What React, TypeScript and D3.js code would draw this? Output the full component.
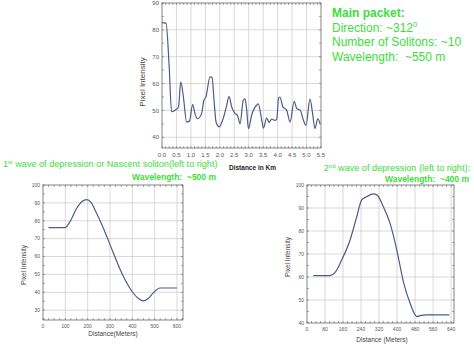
import React from 'react';
import * as d3 from 'd3';

// main packet transect (distance km, pixel intensity)
const packetDist = [0, 0.14, 0.25, 0.33, 0.45, 0.57, 0.65, 0.74, 0.85, 0.95, 1.06, 1.14, 1.23, 1.37, 1.45, 1.52, 1.66, 1.73, 1.8, 1.87, 1.98, 2.12, 2.24, 2.32, 2.41, 2.53, 2.61, 2.7, 2.81, 2.87, 2.93, 2.99, 3.1, 3.28, 3.33, 3.45, 3.51, 3.62, 3.71, 3.79, 3.91, 3.97, 4.03, 4.08, 4.18, 4.31, 4.43, 4.57, 4.66, 4.78, 4.89, 4.98, 5.12, 5.21, 5.29, 5.39, 5.47];
const packetVal = [82.7, 82.4, 66, 49.5, 50.1, 51.3, 60.6, 55, 45.7, 46, 52.2, 48.8, 46.9, 48.8, 53.8, 55, 62.5, 62.3, 53.8, 45.7, 43.9, 47.1, 52, 55.2, 51.3, 48.8, 48.2, 45, 53.8, 54.3, 50.1, 43.2, 48.2, 52, 52.4, 46.4, 43.4, 47.1, 45.5, 46.8, 46.3, 46.8, 54.5, 55, 51.3, 50.1, 45.7, 53.4, 50.7, 50.1, 46.4, 44.4, 54.2, 48.8, 43.2, 46.9, 45];

// 1st wave of depression (metres)
const wave1Dist = [25, 60, 98, 121, 151, 175, 195, 215, 233, 270, 315, 360, 404, 430, 450, 470, 494, 524, 560, 600];
const wave1Val = [76.2, 76.2, 76.2, 79.5, 87, 90.8, 91.8, 90.3, 86, 76, 62, 48.8, 39.6, 36.2, 35.2, 36.4, 39.7, 42.4, 42.4, 42.4];

// 2nd wave of depression (metres)
const wave2Dist = [28, 70, 102, 124, 154, 191, 221, 243, 265, 295, 310, 339, 369, 399, 428, 458, 488, 502, 532, 632];
const wave2Val = [60.6, 60.6, 60.6, 61.9, 67.4, 76, 86.2, 93.5, 94.9, 96.1, 95.7, 90.6, 83.3, 71.7, 58, 48.6, 42.8, 43.2, 43.5, 43.5];

const packetXTicks = [0, 0.5, 1, 1.5, 2, 2.5, 3, 3.5, 4, 4.5, 5, 5.5];
const packetYTicks = [40, 50, 60, 70, 80, 90];
const wave1XTicks = [0, 100, 200, 300, 400, 500, 600];
const wave1YTicks = [30, 40, 50, 60, 70, 80, 90, 100];
const wave2XTicks = [0, 80, 160, 240, 320, 400, 480, 560, 640];
const wave2YTicks = [40, 50, 60, 70, 80, 90, 100];

const FONT = 'Liberation Sans, Arial, sans-serif';
const GREEN = '#3ddc3d';
const LINE = '#4f5a86';

interface PanelProps {
  xs: number[]; ys: number[];
  box: [number, number, number, number]; // left, top, right, bottom
  xDomain: [number, number]; yDomain: [number, number];
  xTicks: number[]; yTicks: number[];
  xFmt: (v: number) => string;
  tickSize: number;
}

function Panel({ xs, ys, box, xDomain, yDomain, xTicks, yTicks, xFmt, tickSize }: PanelProps) {
  const [l, t, r, b] = box;
  const x = d3.scaleLinear().domain(xDomain).range([l, r]);
  const y = d3.scaleLinear().domain(yDomain).range([b, t]);
  const pts = xs.map((d, i) => [d, ys[i]] as [number, number]);
  const line = d3.line<[number, number]>().x(d => x(d[0])).y(d => y(d[1])).curve(d3.curveMonotoneX);
  const xStep = xTicks[1] - xTicks[0];
  const minorX = d3.range(xDomain[0], xDomain[1] + 1e-9, xStep / 4);
  const yStep = yTicks[1] - yTicks[0];
  const minorY = d3.range(yTicks[0] - yStep, yDomain[1] + 1e-9, yStep / 2).filter(v => v >= yDomain[0]);
  return (
    <g>
      {xTicks.filter(v => v > xDomain[0] && v < xDomain[1]).map(v => (
        <line key={'gx' + v} x1={x(v)} x2={x(v)} y1={t} y2={b} stroke="#c8c8c8" strokeWidth={0.7} />
      ))}
      {yTicks.filter(v => v > yDomain[0] && v < yDomain[1]).map(v => (
        <line key={'gy' + v} x1={l} x2={r} y1={y(v)} y2={y(v)} stroke="#c8c8c8" strokeWidth={0.7} />
      ))}
      {minorX.map(v => (
        <g key={'mx' + v}>
          <line x1={x(v)} x2={x(v)} y1={t} y2={t + 2} stroke="#666" strokeWidth={0.6} />
          <line x1={x(v)} x2={x(v)} y1={b} y2={b - 2} stroke="#666" strokeWidth={0.6} />
        </g>
      ))}
      {minorY.map(v => (
        <g key={'my' + v}>
          <line x1={l} x2={l + 2} y1={y(v)} y2={y(v)} stroke="#666" strokeWidth={0.6} />
          <line x1={r} x2={r - 2} y1={y(v)} y2={y(v)} stroke="#666" strokeWidth={0.6} />
        </g>
      ))}
      <rect x={l} y={t} width={r - l} height={b - t} fill="none" stroke="#666" strokeWidth={0.8} />
      <path d={line(pts) || ''} fill="none" stroke={LINE} strokeWidth={1.2} />
      {xTicks.map(v => (
        <text key={'tx' + v} x={x(v)} y={b + tickSize + 3} fontSize={tickSize} fill="#555" textAnchor="middle" fontFamily={FONT}>{xFmt(v)}</text>
      ))}
      {yTicks.map(v => (
        <text key={'ty' + v} x={l - 3} y={y(v) + tickSize * 0.35} fontSize={tickSize} fill="#555" textAnchor="end" fontFamily={FONT}>{v}</text>
      ))}
    </g>
  );
}

export default function App() {
  return (
    <svg width={474} height={353} style={{ position: 'absolute', left: 0, top: 0, background: '#fff' }} fontFamily={FONT}>
      <Panel xs={packetDist} ys={packetVal} box={[162, 3, 321, 148]} xDomain={[0, 5.5]} yDomain={[36, 90]}
        xTicks={packetXTicks} yTicks={packetYTicks} xFmt={v => v.toFixed(1)} tickSize={6} />
      <text transform="translate(145,82) rotate(-90)" fontSize={8} fill="#444" textAnchor="middle">Pixel Intensity</text>
      <text x={229} y={170} fontSize={6.5} fill="#222" fontWeight="bold">Distance in Km</text>

      <text x={332} y={17} fontSize={12} fill={GREEN} fontWeight="bold">Main packet:</text>
      <text x={332} y={32} fontSize={12} fill={GREEN}>Direction: ~312<tspan fontSize={8} dy={-5}>0</tspan></text>
      <text x={332} y={46} fontSize={12} fill={GREEN}>Number of Solitons: ~10</text>
      <text x={332} y={61} fontSize={12} fill={GREEN} xmlSpace="preserve">Wavelength:  ~550 m</text>

      <Panel xs={wave1Dist} ys={wave1Val} box={[43, 185, 183, 320]} xDomain={[0, 627]} yDomain={[24.5, 100]}
        xTicks={wave1XTicks} yTicks={wave1YTicks} xFmt={v => String(v)} tickSize={5} />
      <text x={3} y={167} fontSize={9.1} fill={GREEN}>1<tspan fontSize={6} dy={-3}>st</tspan><tspan dy={3}> wave of depression or Nascent soliton(left to right)</tspan></text>
      <text x={216} y={179.5} fontSize={8.5} fill={GREEN} fontWeight="bold" textAnchor="end" xmlSpace="preserve">Wavelength:  ~500 m</text>
      <text transform="translate(26,265) rotate(-90)" fontSize={6.5} fill="#444" textAnchor="middle">Pixel Intensity</text>
      <text x={113} y={336} fontSize={6.5} fill="#444" textAnchor="middle">Distance(Meters)</text>

      <Panel xs={wave2Dist} ys={wave2Val} box={[307, 185, 454, 323]} xDomain={[0, 653]} yDomain={[40, 100]}
        xTicks={wave2XTicks} yTicks={wave2YTicks} xFmt={v => String(v)} tickSize={5} />
      <text x={470} y={171} fontSize={9.1} fill={GREEN} textAnchor="end">2<tspan fontSize={6} dy={-3}>nd</tspan><tspan dy={3}> wave of depression (left to right):</tspan></text>
      <text x={469} y={182} fontSize={8.5} fill={GREEN} fontWeight="bold" textAnchor="end" xmlSpace="preserve">Wavelength:  ~400 m</text>
      <text transform="translate(290,257) rotate(-90)" fontSize={6.5} fill="#444" textAnchor="middle">Pixel Intensity</text>
      <text x={382} y={342} fontSize={6.5} fill="#444" textAnchor="middle">Distance (Meters)</text>
    </svg>
  );
}
